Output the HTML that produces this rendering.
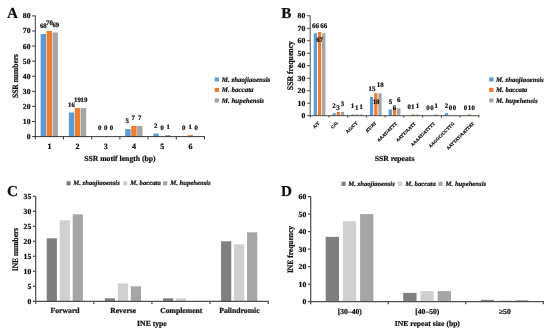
<!DOCTYPE html>
<html lang="en">
<head>
<meta charset="utf-8">
<title>SSR and INE statistics</title>
<style>
html,body{margin:0;padding:0;background:#fff;}
body{width:550px;height:334px;overflow:hidden;}
svg{display:block;}
svg text{text-rendering:geometricPrecision;font-family:"Liberation Serif",serif;font-weight:bold;fill:#111;stroke:#111;stroke-width:0.22px;}
</style>
</head>
<body>
<svg width="550" height="334" viewBox="0 0 550 334">
<defs><filter id="soft" x="0" y="0" width="550" height="334" filterUnits="userSpaceOnUse"><feGaussianBlur stdDeviation="0.32"/></filter></defs>
<rect width="550" height="334" fill="#ffffff"/>
<g filter="url(#soft)">
<text x="6.90" y="17.80" font-size="15.2" text-anchor="start">A</text>
<rect x="40.62" y="33.99" width="5.45" height="102.61" fill="#5b9bd5"/>
<rect x="46.57" y="30.97" width="5.45" height="105.63" fill="#ed7d31"/>
<rect x="52.52" y="32.48" width="5.45" height="104.12" fill="#a5a5a5"/>
<rect x="68.83" y="112.46" width="5.45" height="24.14" fill="#5b9bd5"/>
<rect x="74.78" y="107.93" width="5.45" height="28.67" fill="#ed7d31"/>
<rect x="80.73" y="107.93" width="5.45" height="28.67" fill="#a5a5a5"/>
<rect x="125.23" y="129.06" width="5.45" height="7.54" fill="#5b9bd5"/>
<rect x="131.18" y="126.04" width="5.45" height="10.56" fill="#ed7d31"/>
<rect x="137.12" y="126.04" width="5.45" height="10.56" fill="#a5a5a5"/>
<rect x="153.42" y="133.58" width="5.45" height="3.02" fill="#5b9bd5"/>
<rect x="165.32" y="135.09" width="5.45" height="1.51" fill="#a5a5a5"/>
<rect x="187.57" y="135.09" width="5.45" height="1.51" fill="#ed7d31"/>
<line x1="35.30" y1="15.50" x2="35.30" y2="137.05" stroke="#262626" stroke-width="0.9"/>
<line x1="34.85" y1="136.60" x2="204.90" y2="136.60" stroke="#262626" stroke-width="0.9"/>
<line x1="32.10" y1="136.60" x2="35.30" y2="136.60" stroke="#262626" stroke-width="0.9"/>
<text x="30.50" y="139.10" font-size="7.7" text-anchor="end">0</text>
<line x1="32.10" y1="121.51" x2="35.30" y2="121.51" stroke="#262626" stroke-width="0.9"/>
<text x="30.50" y="124.01" font-size="7.7" text-anchor="end">10</text>
<line x1="32.10" y1="106.42" x2="35.30" y2="106.42" stroke="#262626" stroke-width="0.9"/>
<text x="30.50" y="108.92" font-size="7.7" text-anchor="end">20</text>
<line x1="32.10" y1="91.33" x2="35.30" y2="91.33" stroke="#262626" stroke-width="0.9"/>
<text x="30.50" y="93.83" font-size="7.7" text-anchor="end">30</text>
<line x1="32.10" y1="76.24" x2="35.30" y2="76.24" stroke="#262626" stroke-width="0.9"/>
<text x="30.50" y="78.74" font-size="7.7" text-anchor="end">40</text>
<line x1="32.10" y1="61.15" x2="35.30" y2="61.15" stroke="#262626" stroke-width="0.9"/>
<text x="30.50" y="63.65" font-size="7.7" text-anchor="end">50</text>
<line x1="32.10" y1="46.06" x2="35.30" y2="46.06" stroke="#262626" stroke-width="0.9"/>
<text x="30.50" y="48.56" font-size="7.7" text-anchor="end">60</text>
<line x1="32.10" y1="30.97" x2="35.30" y2="30.97" stroke="#262626" stroke-width="0.9"/>
<text x="30.50" y="33.47" font-size="7.7" text-anchor="end">70</text>
<line x1="32.10" y1="15.88" x2="35.30" y2="15.88" stroke="#262626" stroke-width="0.9"/>
<text x="30.50" y="18.38" font-size="7.7" text-anchor="end">80</text>
<line x1="35.30" y1="136.60" x2="35.30" y2="139.40" stroke="#262626" stroke-width="0.9"/>
<line x1="63.50" y1="136.60" x2="63.50" y2="139.40" stroke="#262626" stroke-width="0.9"/>
<line x1="91.70" y1="136.60" x2="91.70" y2="139.40" stroke="#262626" stroke-width="0.9"/>
<line x1="119.90" y1="136.60" x2="119.90" y2="139.40" stroke="#262626" stroke-width="0.9"/>
<line x1="148.10" y1="136.60" x2="148.10" y2="139.40" stroke="#262626" stroke-width="0.9"/>
<line x1="176.30" y1="136.60" x2="176.30" y2="139.40" stroke="#262626" stroke-width="0.9"/>
<line x1="204.50" y1="136.60" x2="204.50" y2="139.40" stroke="#262626" stroke-width="0.9"/>
<text x="49.40" y="149.00" font-size="8.0" text-anchor="middle">1</text>
<text x="77.60" y="149.00" font-size="8.0" text-anchor="middle">2</text>
<text x="105.80" y="149.00" font-size="8.0" text-anchor="middle">3</text>
<text x="134.00" y="149.00" font-size="8.0" text-anchor="middle">4</text>
<text x="162.20" y="149.00" font-size="8.0" text-anchor="middle">5</text>
<text x="190.40" y="149.00" font-size="8.0" text-anchor="middle">6</text>
<text x="119.90" y="160.80" font-size="7.7" text-anchor="middle">SSR motif length (bp)</text>
<text transform="translate(18.2,76) rotate(-90) scale(1,1.1)" font-size="7.5" text-anchor="middle">SSR numbers</text>
<text x="43.30" y="27.90" font-size="6.8" text-anchor="middle">68</text>
<text x="49.50" y="25.40" font-size="6.8" text-anchor="middle">70</text>
<text x="55.80" y="26.80" font-size="6.8" text-anchor="middle">69</text>
<text x="71.40" y="106.70" font-size="6.8" text-anchor="middle">16</text>
<text x="77.40" y="101.60" font-size="6.8" text-anchor="middle">19</text>
<text x="84.00" y="101.60" font-size="6.8" text-anchor="middle">19</text>
<text x="99.70" y="130.10" font-size="6.8" text-anchor="middle">0</text>
<text x="105.60" y="130.10" font-size="6.8" text-anchor="middle">0</text>
<text x="111.50" y="130.10" font-size="6.8" text-anchor="middle">0</text>
<text x="127.20" y="122.50" font-size="6.8" text-anchor="middle">5</text>
<text x="133.30" y="120.20" font-size="6.8" text-anchor="middle">7</text>
<text x="139.70" y="120.20" font-size="6.8" text-anchor="middle">7</text>
<text x="155.80" y="128.00" font-size="6.8" text-anchor="middle">2</text>
<text x="162.10" y="130.00" font-size="6.8" text-anchor="middle">0</text>
<text x="168.20" y="128.80" font-size="6.8" text-anchor="middle">1</text>
<text x="183.80" y="130.00" font-size="6.8" text-anchor="middle">0</text>
<text x="190.10" y="128.50" font-size="6.8" text-anchor="middle">1</text>
<text x="196.20" y="130.00" font-size="6.8" text-anchor="middle">0</text>
<rect x="214.70" y="77.40" width="4.30" height="4.10" fill="#5b9bd5"/>
<text x="221.70" y="81.50" font-size="7.0" text-anchor="start" font-style="italic">M. zhaojiaoensis</text>
<rect x="214.70" y="87.90" width="4.30" height="4.10" fill="#ed7d31"/>
<text x="221.70" y="92.00" font-size="7.0" text-anchor="start" font-style="italic">M. baccata</text>
<rect x="214.70" y="98.40" width="4.30" height="4.10" fill="#a5a5a5"/>
<text x="221.70" y="102.50" font-size="7.0" text-anchor="start" font-style="italic">M. hupehensis</text>
<text x="281.20" y="17.80" font-size="15.2" text-anchor="start">B</text>
<rect x="313.70" y="33.27" width="3.30" height="82.43" fill="#5b9bd5"/>
<rect x="317.95" y="32.02" width="3.30" height="83.68" fill="#ed7d31"/>
<rect x="322.10" y="33.27" width="3.30" height="82.43" fill="#a5a5a5"/>
<rect x="332.44" y="113.20" width="3.30" height="2.50" fill="#5b9bd5"/>
<rect x="336.69" y="111.95" width="3.30" height="3.75" fill="#ed7d31"/>
<rect x="340.84" y="111.95" width="3.30" height="3.75" fill="#a5a5a5"/>
<rect x="351.18" y="114.45" width="3.30" height="1.25" fill="#5b9bd5"/>
<rect x="355.43" y="114.45" width="3.30" height="1.25" fill="#ed7d31"/>
<rect x="359.58" y="114.45" width="3.30" height="1.25" fill="#a5a5a5"/>
<rect x="369.92" y="96.97" width="3.30" height="18.74" fill="#5b9bd5"/>
<rect x="374.17" y="93.22" width="3.30" height="22.48" fill="#ed7d31"/>
<rect x="378.32" y="93.22" width="3.30" height="22.48" fill="#a5a5a5"/>
<rect x="388.66" y="109.45" width="3.30" height="6.25" fill="#5b9bd5"/>
<rect x="392.91" y="108.21" width="3.30" height="7.49" fill="#ed7d31"/>
<rect x="397.06" y="108.21" width="3.30" height="7.49" fill="#a5a5a5"/>
<rect x="411.65" y="114.45" width="3.30" height="1.25" fill="#ed7d31"/>
<rect x="415.80" y="114.45" width="3.30" height="1.25" fill="#a5a5a5"/>
<rect x="434.54" y="114.45" width="3.30" height="1.25" fill="#a5a5a5"/>
<rect x="444.88" y="113.20" width="3.30" height="2.50" fill="#5b9bd5"/>
<rect x="467.87" y="114.45" width="3.30" height="1.25" fill="#ed7d31"/>
<line x1="310.20" y1="15.40" x2="310.20" y2="116.15" stroke="#4d4d4d" stroke-width="1.0"/>
<line x1="309.75" y1="115.70" x2="479.26" y2="115.70" stroke="#4d4d4d" stroke-width="1.0"/>
<line x1="307.00" y1="115.70" x2="310.20" y2="115.70" stroke="#4d4d4d" stroke-width="1.0"/>
<text x="305.30" y="118.20" font-size="7.7" text-anchor="end">0</text>
<line x1="307.00" y1="103.21" x2="310.20" y2="103.21" stroke="#4d4d4d" stroke-width="1.0"/>
<text x="305.30" y="105.71" font-size="7.7" text-anchor="end">10</text>
<line x1="307.00" y1="90.72" x2="310.20" y2="90.72" stroke="#4d4d4d" stroke-width="1.0"/>
<text x="305.30" y="93.22" font-size="7.7" text-anchor="end">20</text>
<line x1="307.00" y1="78.23" x2="310.20" y2="78.23" stroke="#4d4d4d" stroke-width="1.0"/>
<text x="305.30" y="80.73" font-size="7.7" text-anchor="end">30</text>
<line x1="307.00" y1="65.74" x2="310.20" y2="65.74" stroke="#4d4d4d" stroke-width="1.0"/>
<text x="305.30" y="68.24" font-size="7.7" text-anchor="end">40</text>
<line x1="307.00" y1="53.25" x2="310.20" y2="53.25" stroke="#4d4d4d" stroke-width="1.0"/>
<text x="305.30" y="55.75" font-size="7.7" text-anchor="end">50</text>
<line x1="307.00" y1="40.76" x2="310.20" y2="40.76" stroke="#4d4d4d" stroke-width="1.0"/>
<text x="305.30" y="43.26" font-size="7.7" text-anchor="end">60</text>
<line x1="307.00" y1="28.27" x2="310.20" y2="28.27" stroke="#4d4d4d" stroke-width="1.0"/>
<text x="305.30" y="30.77" font-size="7.7" text-anchor="end">70</text>
<line x1="307.00" y1="15.78" x2="310.20" y2="15.78" stroke="#4d4d4d" stroke-width="1.0"/>
<text x="305.30" y="18.28" font-size="7.7" text-anchor="end">80</text>
<line x1="310.20" y1="115.70" x2="310.20" y2="117.60" stroke="#333" stroke-width="0.9"/>
<line x1="328.94" y1="115.70" x2="328.94" y2="117.60" stroke="#333" stroke-width="0.9"/>
<line x1="347.68" y1="115.70" x2="347.68" y2="117.60" stroke="#333" stroke-width="0.9"/>
<line x1="366.42" y1="115.70" x2="366.42" y2="117.60" stroke="#333" stroke-width="0.9"/>
<line x1="385.16" y1="115.70" x2="385.16" y2="117.60" stroke="#333" stroke-width="0.9"/>
<line x1="403.90" y1="115.70" x2="403.90" y2="117.60" stroke="#333" stroke-width="0.9"/>
<line x1="422.64" y1="115.70" x2="422.64" y2="117.60" stroke="#333" stroke-width="0.9"/>
<line x1="441.38" y1="115.70" x2="441.38" y2="117.60" stroke="#333" stroke-width="0.9"/>
<line x1="460.12" y1="115.70" x2="460.12" y2="117.60" stroke="#333" stroke-width="0.9"/>
<line x1="478.86" y1="115.70" x2="478.86" y2="117.60" stroke="#333" stroke-width="0.9"/>
<text x="394.53" y="160.90" font-size="7.7" text-anchor="middle">SSR repeats</text>
<text transform="translate(292.8,65.6) rotate(-90) scale(1,1.1)" font-size="7.75" text-anchor="middle">SSR frequency</text>
<text x="315.45" y="27.50" font-size="6.9" text-anchor="middle">66</text>
<text x="323.70" y="27.50" font-size="6.9" text-anchor="middle">66</text>
<text x="319.60" y="42.00" font-size="6.9" text-anchor="middle">67</text>
<text x="334.00" y="107.55" font-size="6.9" text-anchor="middle">2</text>
<text x="338.05" y="110.20" font-size="6.9" text-anchor="middle">3</text>
<text x="342.60" y="106.30" font-size="6.9" text-anchor="middle">3</text>
<text x="352.60" y="108.45" font-size="6.9" text-anchor="middle">1</text>
<text x="356.80" y="110.20" font-size="6.9" text-anchor="middle">1</text>
<text x="361.30" y="108.70" font-size="6.9" text-anchor="middle">1</text>
<text x="372.00" y="90.90" font-size="6.9" text-anchor="middle">15</text>
<text x="380.20" y="86.90" font-size="6.9" text-anchor="middle">18</text>
<text x="376.10" y="103.90" font-size="6.9" text-anchor="middle">18</text>
<text x="390.40" y="104.00" font-size="6.9" text-anchor="middle">5</text>
<text x="394.40" y="109.80" font-size="6.9" text-anchor="middle">6</text>
<text x="398.70" y="101.80" font-size="6.9" text-anchor="middle">6</text>
<text x="409.30" y="109.40" font-size="6.9" text-anchor="middle">0</text>
<text x="412.80" y="109.40" font-size="6.9" text-anchor="middle">1</text>
<text x="417.60" y="107.60" font-size="6.9" text-anchor="middle">1</text>
<text x="428.00" y="109.60" font-size="6.9" text-anchor="middle">0</text>
<text x="431.90" y="109.60" font-size="6.9" text-anchor="middle">0</text>
<text x="436.20" y="107.60" font-size="6.9" text-anchor="middle">1</text>
<text x="446.40" y="107.50" font-size="6.9" text-anchor="middle">2</text>
<text x="450.60" y="109.80" font-size="6.9" text-anchor="middle">0</text>
<text x="454.40" y="109.80" font-size="6.9" text-anchor="middle">0</text>
<text x="465.50" y="109.80" font-size="6.9" text-anchor="middle">0</text>
<text x="469.50" y="109.80" font-size="6.9" text-anchor="middle">1</text>
<text x="473.20" y="109.80" font-size="6.9" text-anchor="middle">0</text>
<text transform="translate(319.8,123.3) rotate(-45)" font-size="4.4" letter-spacing="0.1" text-anchor="end" stroke="none" fill="#505050">A/T</text>
<text transform="translate(338.3,123.3) rotate(-45)" font-size="4.4" letter-spacing="0.1" text-anchor="end" stroke="none" fill="#505050">C/G</text>
<text transform="translate(357.8,123.3) rotate(-45)" font-size="4.4" letter-spacing="0.1" text-anchor="end" stroke="none" fill="#505050">AG/CT</text>
<text transform="translate(376.6,123.3) rotate(-45)" font-size="4.4" letter-spacing="0.1" text-anchor="end" stroke="none" fill="#505050">AT/AT</text>
<text transform="translate(397.3,123.8) rotate(-45)" font-size="4.4" letter-spacing="0.1" text-anchor="end" stroke="none" fill="#505050">AAAT/ATTT</text>
<text transform="translate(416.0,123.8) rotate(-45)" font-size="4.4" letter-spacing="0.1" text-anchor="end" stroke="none" fill="#505050">AATT/AATT</text>
<text transform="translate(435.3,123.8) rotate(-45)" font-size="4.4" letter-spacing="0.1" text-anchor="end" stroke="none" fill="#505050">AAAAT/ATTTT</text>
<text transform="translate(454.7,123.8) rotate(-45)" font-size="4.4" letter-spacing="0.1" text-anchor="end" stroke="none" fill="#505050">AAGGC/CCTTG</text>
<text transform="translate(474.5,123.8) rotate(-45)" font-size="4.4" letter-spacing="0.1" text-anchor="end" stroke="none" fill="#505050">AATTAT/AATTAT</text>
<rect x="489.20" y="77.40" width="4.30" height="4.10" fill="#5b9bd5"/>
<text x="495.90" y="81.50" font-size="6.9" text-anchor="start" font-style="italic">M. zhaojiaoensis</text>
<rect x="489.20" y="87.90" width="4.30" height="4.10" fill="#ed7d31"/>
<text x="495.90" y="92.00" font-size="6.9" text-anchor="start" font-style="italic">M. baccata</text>
<rect x="489.20" y="98.40" width="4.30" height="4.10" fill="#a5a5a5"/>
<text x="495.90" y="102.50" font-size="6.9" text-anchor="start" font-style="italic">M. hupehensis</text>
<text x="7.00" y="196.00" font-size="15.2" text-anchor="start">C</text>
<rect x="46.70" y="238.30" width="10.20" height="63.00" fill="#7f7f7f"/>
<rect x="59.70" y="220.30" width="10.20" height="81.00" fill="#d0d0d0"/>
<rect x="72.70" y="214.30" width="10.20" height="87.00" fill="#a6a6a6"/>
<rect x="104.82" y="298.30" width="10.20" height="3.00" fill="#7f7f7f"/>
<rect x="117.82" y="283.30" width="10.20" height="18.00" fill="#d0d0d0"/>
<rect x="130.82" y="286.30" width="10.20" height="15.00" fill="#a6a6a6"/>
<rect x="162.94" y="298.30" width="10.20" height="3.00" fill="#7f7f7f"/>
<rect x="175.94" y="298.30" width="10.20" height="3.00" fill="#d0d0d0"/>
<rect x="221.06" y="241.30" width="10.20" height="60.00" fill="#7f7f7f"/>
<rect x="234.06" y="244.30" width="10.20" height="57.00" fill="#d0d0d0"/>
<rect x="247.06" y="232.30" width="10.20" height="69.00" fill="#a6a6a6"/>
<line x1="35.70" y1="195.90" x2="35.70" y2="301.90" stroke="#505050" stroke-width="1.25"/>
<line x1="35.10" y1="301.30" x2="268.78" y2="301.30" stroke="#505050" stroke-width="1.25"/>
<line x1="32.90" y1="301.30" x2="35.70" y2="301.30" stroke="#505050" stroke-width="1.25"/>
<text x="31.30" y="303.80" font-size="7.7" text-anchor="end">0</text>
<line x1="32.90" y1="286.30" x2="35.70" y2="286.30" stroke="#505050" stroke-width="1.25"/>
<text x="31.30" y="288.80" font-size="7.7" text-anchor="end">5</text>
<line x1="32.90" y1="271.30" x2="35.70" y2="271.30" stroke="#505050" stroke-width="1.25"/>
<text x="31.30" y="273.80" font-size="7.7" text-anchor="end">10</text>
<line x1="32.90" y1="256.30" x2="35.70" y2="256.30" stroke="#505050" stroke-width="1.25"/>
<text x="31.30" y="258.80" font-size="7.7" text-anchor="end">15</text>
<line x1="32.90" y1="241.30" x2="35.70" y2="241.30" stroke="#505050" stroke-width="1.25"/>
<text x="31.30" y="243.80" font-size="7.7" text-anchor="end">20</text>
<line x1="32.90" y1="226.30" x2="35.70" y2="226.30" stroke="#505050" stroke-width="1.25"/>
<text x="31.30" y="228.80" font-size="7.7" text-anchor="end">25</text>
<line x1="32.90" y1="211.30" x2="35.70" y2="211.30" stroke="#505050" stroke-width="1.25"/>
<text x="31.30" y="213.80" font-size="7.7" text-anchor="end">30</text>
<line x1="32.90" y1="196.30" x2="35.70" y2="196.30" stroke="#505050" stroke-width="1.25"/>
<text x="31.30" y="198.80" font-size="7.7" text-anchor="end">35</text>
<line x1="35.70" y1="301.30" x2="35.70" y2="303.90" stroke="#505050" stroke-width="1.25"/>
<line x1="93.82" y1="301.30" x2="93.82" y2="303.90" stroke="#505050" stroke-width="1.25"/>
<line x1="151.94" y1="301.30" x2="151.94" y2="303.90" stroke="#505050" stroke-width="1.25"/>
<line x1="210.06" y1="301.30" x2="210.06" y2="303.90" stroke="#505050" stroke-width="1.25"/>
<line x1="268.18" y1="301.30" x2="268.18" y2="303.90" stroke="#505050" stroke-width="1.25"/>
<text x="65.06" y="313.30" font-size="7.7" text-anchor="middle">Forward</text>
<text x="123.18" y="313.30" font-size="7.7" text-anchor="middle">Reverse</text>
<text x="181.30" y="313.30" font-size="7.7" text-anchor="middle">Complement</text>
<text x="239.42" y="313.30" font-size="7.7" text-anchor="middle">Palindromic</text>
<text x="151.94" y="326.00" font-size="7.7" text-anchor="middle">INE type</text>
<text transform="translate(18.1,249.5) rotate(-90) scale(1,1.1)" font-size="7.5" text-anchor="middle">INE numbers</text>
<rect x="66.50" y="181.20" width="4.20" height="4.20" fill="#7f7f7f"/>
<text x="73.30" y="185.40" font-size="6.7" text-anchor="start" font-style="italic">M. zhaojiaoensis</text>
<rect x="123.00" y="181.20" width="4.20" height="4.20" fill="#d0d0d0"/>
<text x="130.30" y="185.40" font-size="6.7" text-anchor="start" font-style="italic">M. baccata</text>
<rect x="163.10" y="181.20" width="4.20" height="4.20" fill="#a6a6a6"/>
<text x="170.20" y="185.40" font-size="6.7" text-anchor="start" font-style="italic">M. hupehensis</text>
<text x="281.00" y="196.00" font-size="15.2" text-anchor="start">D</text>
<rect x="325.70" y="236.85" width="13.30" height="64.75" fill="#7f7f7f"/>
<rect x="342.90" y="221.10" width="13.30" height="80.50" fill="#d0d0d0"/>
<rect x="360.10" y="214.10" width="13.30" height="87.50" fill="#a6a6a6"/>
<rect x="403.23" y="292.85" width="13.30" height="8.75" fill="#7f7f7f"/>
<rect x="420.43" y="291.10" width="13.30" height="10.50" fill="#d0d0d0"/>
<rect x="437.63" y="291.10" width="13.30" height="10.50" fill="#a6a6a6"/>
<rect x="480.76" y="299.85" width="13.30" height="1.75" fill="#7f7f7f"/>
<rect x="497.96" y="300.20" width="13.30" height="1.40" fill="#d0d0d0"/>
<rect x="515.16" y="300.03" width="13.30" height="1.57" fill="#a6a6a6"/>
<line x1="310.70" y1="196.20" x2="310.70" y2="302.20" stroke="#505050" stroke-width="1.25"/>
<line x1="310.10" y1="301.60" x2="543.89" y2="301.60" stroke="#505050" stroke-width="1.25"/>
<line x1="307.90" y1="301.60" x2="310.70" y2="301.60" stroke="#505050" stroke-width="1.25"/>
<text x="306.30" y="304.10" font-size="7.7" text-anchor="end">0</text>
<line x1="307.90" y1="284.10" x2="310.70" y2="284.10" stroke="#505050" stroke-width="1.25"/>
<text x="306.30" y="286.60" font-size="7.7" text-anchor="end">10</text>
<line x1="307.90" y1="266.60" x2="310.70" y2="266.60" stroke="#505050" stroke-width="1.25"/>
<text x="306.30" y="269.10" font-size="7.7" text-anchor="end">20</text>
<line x1="307.90" y1="249.10" x2="310.70" y2="249.10" stroke="#505050" stroke-width="1.25"/>
<text x="306.30" y="251.60" font-size="7.7" text-anchor="end">30</text>
<line x1="307.90" y1="231.60" x2="310.70" y2="231.60" stroke="#505050" stroke-width="1.25"/>
<text x="306.30" y="234.10" font-size="7.7" text-anchor="end">40</text>
<line x1="307.90" y1="214.10" x2="310.70" y2="214.10" stroke="#505050" stroke-width="1.25"/>
<text x="306.30" y="216.60" font-size="7.7" text-anchor="end">50</text>
<line x1="307.90" y1="196.60" x2="310.70" y2="196.60" stroke="#505050" stroke-width="1.25"/>
<text x="306.30" y="199.10" font-size="7.7" text-anchor="end">60</text>
<line x1="310.70" y1="301.60" x2="310.70" y2="304.20" stroke="#505050" stroke-width="1.25"/>
<line x1="388.23" y1="301.60" x2="388.23" y2="304.20" stroke="#505050" stroke-width="1.25"/>
<line x1="465.76" y1="301.60" x2="465.76" y2="304.20" stroke="#505050" stroke-width="1.25"/>
<line x1="543.29" y1="301.60" x2="543.29" y2="304.20" stroke="#505050" stroke-width="1.25"/>
<text x="349.76" y="313.80" font-size="7.6" text-anchor="middle">[30–40)</text>
<text x="427.30" y="313.80" font-size="7.6" text-anchor="middle">[40–50)</text>
<text x="504.82" y="313.80" font-size="7.6" text-anchor="middle">≥50</text>
<text x="427.39" y="326.20" font-size="7.6" text-anchor="middle">INE repeat size (bp)</text>
<text transform="translate(292.8,249.5) rotate(-90) scale(1,1.1)" font-size="7.5" text-anchor="middle">INE frequency</text>
<rect x="341.50" y="181.70" width="4.20" height="4.20" fill="#7f7f7f"/>
<text x="348.30" y="185.90" font-size="6.7" text-anchor="start" font-style="italic">M. zhaojiaoensis</text>
<rect x="398.00" y="181.70" width="4.20" height="4.20" fill="#d0d0d0"/>
<text x="405.30" y="185.90" font-size="6.7" text-anchor="start" font-style="italic">M. baccata</text>
<rect x="438.40" y="181.70" width="4.20" height="4.20" fill="#a6a6a6"/>
<text x="445.60" y="185.90" font-size="6.7" text-anchor="start" font-style="italic">M. hupehensis</text>
</g>
</svg>
</body>
</html>
